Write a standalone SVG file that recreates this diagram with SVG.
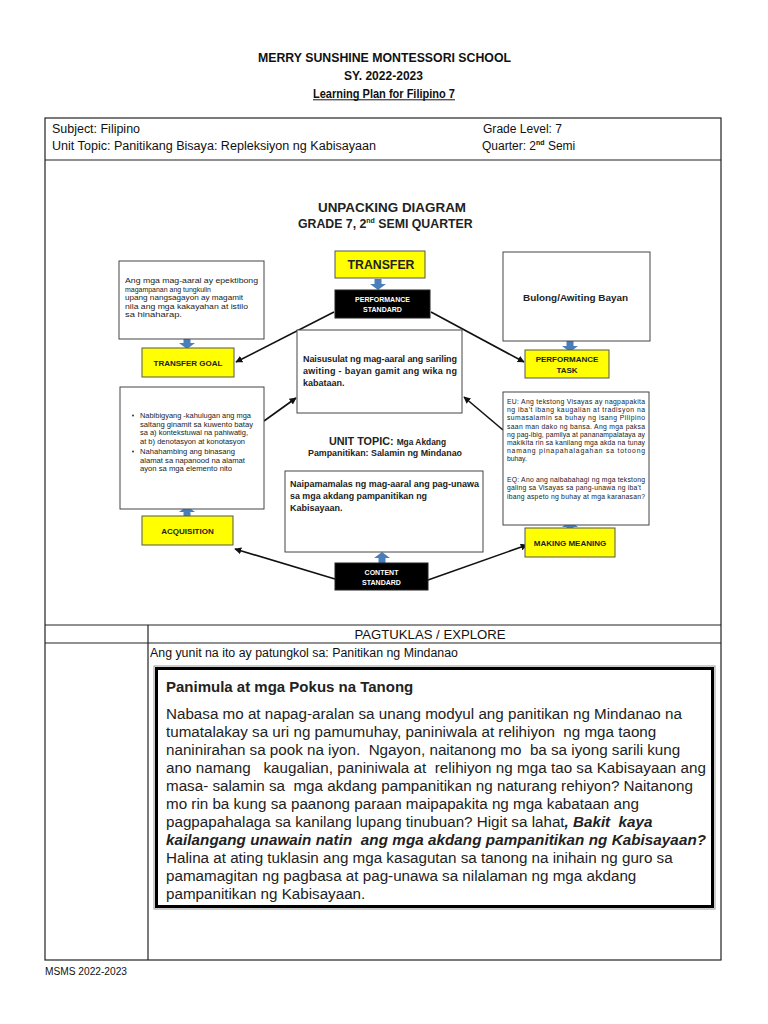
<svg xmlns="http://www.w3.org/2000/svg" width="768" height="1024" viewBox="0 0 768 1024">
<defs>
<style>
.n{font-family:'Liberation Sans Narrow','Liberation Sans',Arial,sans-serif;fill:#111}
.s{font-family:'Liberation Sans',Arial,sans-serif;fill:#222}
.b{font-weight:bold}
.box{fill:#fff;stroke:#444;stroke-width:1}
.yel{fill:#ffff00;stroke:#555;stroke-width:1}
.blk{fill:#000;stroke:#222;stroke-width:1}
.conn{stroke:#111;stroke-width:1.6;fill:none;marker-end:url(#ah)}
.blue{fill:#4a7ebb}
.tb{fill:none;stroke:#222;stroke-width:1.2}
.bt{font-size:7.6px}
.eu{font-size:6.8px}
.cb{font-size:9px;font-weight:bold}
</style>
<marker id="ah" viewBox="0 0 10 10" refX="9" refY="5" markerWidth="7" markerHeight="7" orient="auto" markerUnits="userSpaceOnUse">
<path d="M0,0 L10,5 L0,10 z" fill="#111"/>
</marker>
<path id="bd" class="blue" d="M-3.5,0 H3.5 V5 H8 L0,11 L-8,5 H-3.5 Z"/>
<path id="bu" class="blue" d="M-3.5,11 H3.5 V6 H8 L0,0 L-8,6 H-3.5 Z"/>
</defs>
<rect width="768" height="1024" fill="#fff"/>

<g id="header">
<text class="n b" x="384.5" y="61.5" font-size="13" text-anchor="middle" textLength="253" lengthAdjust="spacingAndGlyphs">MERRY SUNSHINE MONTESSORI SCHOOL</text>
<text class="n b" x="383.5" y="79.5" font-size="13" text-anchor="middle" textLength="79" lengthAdjust="spacingAndGlyphs">SY. 2022-2023</text>
<text class="n b" x="384" y="97.5" font-size="13" text-anchor="middle" textLength="142" lengthAdjust="spacingAndGlyphs">Learning Plan for Filipino 7</text>
<line x1="313" y1="99.8" x2="455" y2="99.8" stroke="#111" stroke-width="1"/>
</g>

<g id="table">
<rect x="45" y="118" width="676" height="842" class="tb"/>
<line x1="45" y1="160" x2="721" y2="160" class="tb"/>
<line x1="45" y1="625" x2="721" y2="625" class="tb"/>
<line x1="45" y1="643" x2="721" y2="643" class="tb"/>
<line x1="148" y1="625" x2="148" y2="960" class="tb"/>
<text class="n" x="52" y="132.5" font-size="12" textLength="88" lengthAdjust="spacingAndGlyphs">Subject: Filipino</text>
<text class="n" x="52" y="150" font-size="12" textLength="324" lengthAdjust="spacingAndGlyphs">Unit Topic:  Panitikang Bisaya: Repleksiyon ng Kabisayaan</text>
<text class="n" x="483" y="132.5" font-size="12" textLength="79" lengthAdjust="spacingAndGlyphs">Grade Level: 7</text>
<text class="n" x="482" y="150" font-size="12">Quarter: 2<tspan font-size="7" font-weight="bold" dy="-5">nd</tspan><tspan dy="5"> Semi</tspan></text>
<text class="n" x="430" y="639" font-size="12.5" text-anchor="middle" textLength="151" lengthAdjust="spacingAndGlyphs">PAGTUKLAS / EXPLORE</text>
<text class="n" x="150" y="657" font-size="12" textLength="308" lengthAdjust="spacingAndGlyphs">Ang yunit na ito ay patungkol sa: Panitikan ng Mindanao</text>
<text class="n" x="45" y="975" font-size="10" textLength="82" lengthAdjust="spacingAndGlyphs">MSMS 2022-2023</text>
</g>

<g id="title">
<text class="s b" x="392" y="212" font-size="12.5" text-anchor="middle" textLength="148" lengthAdjust="spacingAndGlyphs">UNPACKING DIAGRAM</text>
<text class="s b" x="298" y="227.5" font-size="12.3">GRADE 7, 2<tspan font-size="7" dy="-4.5">nd</tspan><tspan dy="4.5"> SEMI QUARTER</tspan></text>
</g>

<g id="connectors">
<line class="conn" x1="334" y1="312" x2="236" y2="362"/>
<line class="conn" x1="431" y1="312" x2="524" y2="362"/>
<line class="conn" x1="264" y1="421" x2="296" y2="398"/>
<line class="conn" x1="503" y1="430" x2="464" y2="397"/>
<line class="conn" x1="335" y1="579" x2="235" y2="549"/>
<line class="conn" x1="428" y1="580" x2="527" y2="545"/>
<use href="#bd" x="378" y="279"/>
<use href="#bd" x="187" y="338"/>
<use href="#bd" x="570" y="341"/>
<use href="#bu" x="187" y="506"/>
<use href="#bu" x="382" y="552"/>
<use href="#bu" x="570" y="521"/>
</g>

<g id="transfer">
<rect class="yel" x="335" y="251" width="90" height="27"/>
<text class="s b" x="381" y="269" font-size="12.3" text-anchor="middle" fill="#111">TRANSFER</text>
</g>

<g id="performance-standard">
<rect class="blk" x="335" y="290" width="95" height="28"/>
<text class="s b" x="382.5" y="302" font-size="7" text-anchor="middle" style="fill:#fff">PERFORMANCE</text>
<text class="s b" x="382.5" y="312" font-size="7" text-anchor="middle" style="fill:#fff">STANDARD</text>
</g>

<g id="transfer-goal-text">
<rect class="box" x="119" y="261" width="145" height="78"/>
<text class="s bt" x="125" y="283" textLength="133" lengthAdjust="spacingAndGlyphs">Ang mga mag-aaral ay epektibong</text>
<text class="s bt" x="125" y="291.5" textLength="86" lengthAdjust="spacingAndGlyphs">magampanan ang tungkulin</text>
<text class="s bt" x="125" y="300" textLength="118" lengthAdjust="spacingAndGlyphs">upang nangsagayon ay magamit</text>
<text class="s bt" x="125" y="308.5" textLength="123" lengthAdjust="spacingAndGlyphs">nila ang mga kakayahan at istilo</text>
<text class="s bt" x="125" y="317" textLength="57" lengthAdjust="spacingAndGlyphs">sa hinaharap.</text>
</g>

<g id="transfer-goal">
<rect class="yel" x="142" y="348" width="92" height="29"/>
<text class="s b" x="188" y="365.5" font-size="8" text-anchor="middle" fill="#111">TRANSFER GOAL</text>
</g>

<g id="bulong">
<rect class="box" x="503" y="252" width="147" height="89"/>
<text class="s b" x="523" y="300.5" font-size="9.5" textLength="105" lengthAdjust="spacingAndGlyphs" fill="#111">Bulong/Awiting Bayan</text>
</g>

<g id="performance-task">
<rect class="yel" x="525" y="350" width="84" height="28"/>
<text class="s b" x="567" y="362" font-size="8" text-anchor="middle" fill="#111">PERFORMANCE</text>
<text class="s b" x="567" y="372.5" font-size="8" text-anchor="middle" fill="#111">TASK</text>
</g>

<g id="performance-text">
<rect class="box" x="297" y="330" width="165" height="83"/>
<text class="s cb" x="303" y="362" textLength="154" lengthAdjust="spacing">Naisusulat ng mag-aaral ang sariling</text>
<text class="s cb" x="303" y="374" textLength="154" lengthAdjust="spacing">awiting - bayan gamit ang wika ng</text>
<text class="s cb" x="303" y="386">kabataan.</text>
</g>

<g id="unit-topic">
<text class="s b" x="329" y="444.5" font-size="11" textLength="117" lengthAdjust="spacingAndGlyphs">UNIT TOPIC: <tspan font-size="8.5">Mga Akdang</tspan></text>
<text class="s b" x="308" y="455.5" font-size="8.5" textLength="154" lengthAdjust="spacingAndGlyphs">Pampanitikan: Salamin ng Mindanao</text>
</g>

<g id="acquisition-text">
<rect class="box" x="120" y="387" width="144" height="122"/>
<circle cx="133" cy="415.5" r="0.9" fill="#222"/>
<text class="s bt" x="140" y="418" textLength="111" lengthAdjust="spacingAndGlyphs">Nabibigyang -kahulugan ang mga</text>
<text class="s bt" x="140" y="426.5" textLength="113" lengthAdjust="spacingAndGlyphs">saltang ginamit sa kuwento batay</text>
<text class="s bt" x="140" y="435" textLength="108" lengthAdjust="spacingAndGlyphs">sa a) kontekstuwal na pahiwatig,</text>
<text class="s bt" x="140" y="443.5" textLength="105" lengthAdjust="spacingAndGlyphs">at b) denotasyon at konotasyon</text>
<circle cx="133" cy="451.5" r="0.9" fill="#222"/>
<text class="s bt" x="140" y="454" textLength="95" lengthAdjust="spacingAndGlyphs">Nahahambing ang binasang</text>
<text class="s bt" x="140" y="462.5" textLength="105" lengthAdjust="spacingAndGlyphs">alamat sa napanood na alamat</text>
<text class="s bt" x="140" y="471" textLength="92" lengthAdjust="spacingAndGlyphs">ayon sa mga elemento nito</text>
</g>

<g id="acquisition">
<rect class="yel" x="142" y="516" width="91" height="29"/>
<text class="s b" x="187.5" y="533.5" font-size="8" text-anchor="middle" fill="#111">ACQUISITION</text>
</g>

<g id="content-text">
<rect class="box" x="285" y="471" width="198" height="81"/>
<text class="s cb" x="290" y="487" textLength="189" lengthAdjust="spacingAndGlyphs">Naipamamalas ng mag-aaral ang pag-unawa</text>
<text class="s cb" x="290" y="499" textLength="137" lengthAdjust="spacingAndGlyphs">sa mga akdang pampanitikan ng</text>
<text class="s cb" x="290" y="511">Kabisayaan.</text>
</g>

<g id="content-standard">
<rect class="blk" x="335" y="563" width="93" height="27"/>
<text class="s b" x="381.5" y="575" font-size="7" text-anchor="middle" style="fill:#fff">CONTENT</text>
<text class="s b" x="381.5" y="585" font-size="7" text-anchor="middle" style="fill:#fff">STANDARD</text>
</g>

<g id="eu-eq">
<rect class="box" x="503" y="392" width="146" height="133"/>
<text class="s eu" x="507" y="404" textLength="138" lengthAdjust="spacing">EU: Ang tekstong Visayas ay nagpapakita</text>
<text class="s eu" x="507" y="412.2" textLength="138" lengthAdjust="spacing">ng iba't ibang kaugalian at tradisyon na</text>
<text class="s eu" x="507" y="420.4" textLength="138" lengthAdjust="spacing">sumasalamin sa  buhay ng isang Pilipino</text>
<text class="s eu" x="507" y="428.6" textLength="138" lengthAdjust="spacing">saan man dako ng bansa. Ang mga paksa</text>
<text class="s eu" x="507" y="436.8" textLength="138" lengthAdjust="spacing">ng pag-ibig, pamilya at pananampalataya ay</text>
<text class="s eu" x="507" y="445" textLength="138" lengthAdjust="spacing">makikita rin sa kanilang mga akda na tunay</text>
<text class="s eu" x="507" y="453.2" textLength="138" lengthAdjust="spacing">namang  pinapahalagahan  sa  totoong</text>
<text class="s eu" x="507" y="461.4">buhay.</text>
<text class="s eu" x="507" y="481.5" textLength="138" lengthAdjust="spacing">EQ: Ano ang naibabahagi ng mga tekstong</text>
<text class="s eu" x="507" y="490" textLength="134" lengthAdjust="spacing">galing sa Visayas sa pang-unawa ng iba't</text>
<text class="s eu" x="507" y="498.5" textLength="138" lengthAdjust="spacing">ibang aspeto ng buhay at mga karanasan?</text>
</g>

<g id="making-meaning">
<rect class="yel" x="525" y="528" width="90" height="29"/>
<text class="s b" x="570" y="545.5" font-size="8" text-anchor="middle" fill="#111">MAKING MEANING</text>
</g>

<g id="panimula">
<rect x="154" y="666" width="561" height="243" fill="none" stroke="#999" stroke-width="1"/>
<rect x="156.5" y="668.5" width="556" height="238" fill="#fff" stroke="#000" stroke-width="3"/>
<text class="s b" x="166" y="691.5" font-size="15" fill="#111">Panimula at mga Pokus na Tanong</text>
<g class="s" font-size="15.2" fill="#111">
<text x="166" y="719">Nabasa mo at napag-aralan sa unang modyul ang panitikan ng Mindanao na</text>
<text x="166" y="737" xml:space="preserve">tumatalakay sa uri ng pamumuhay, paniniwala at relihiyon  ng mga taong</text>
<text x="166" y="755" xml:space="preserve">naninirahan sa pook na iyon.  Ngayon, naitanong mo  ba sa iyong sarili kung</text>
<text x="166" y="773" xml:space="preserve" textLength="540" lengthAdjust="spacing">ano namang   kaugalian, paniniwala at  relihiyon ng mga tao sa Kabisayaan ang</text>
<text x="166" y="791" xml:space="preserve">masa- salamin sa  mga akdang pampanitikan ng naturang rehiyon? Naitanong</text>
<text x="166" y="809">mo rin ba kung sa paanong paraan maipapakita ng mga kabataan ang</text>
<text x="166" y="827" xml:space="preserve">pagpapahalaga sa kanilang lupang tinubuan? Higit sa lahat<tspan font-weight="bold" font-style="italic">, Bakit  kaya</tspan></text>
<text x="166" y="845" font-weight="bold" font-style="italic" xml:space="preserve" textLength="540" lengthAdjust="spacing">kailangang unawain natin  ang mga akdang pampanitikan ng Kabisayaan?</text>
<text x="166" y="863">Halina at ating tuklasin ang mga kasagutan sa tanong na inihain ng guro sa</text>
<text x="166" y="881">pamamagitan ng pagbasa at pag-unawa sa nilalaman ng mga akdang</text>
<text x="166" y="899">pampanitikan ng Kabisayaan.</text>
</g>
</g>
</svg>
